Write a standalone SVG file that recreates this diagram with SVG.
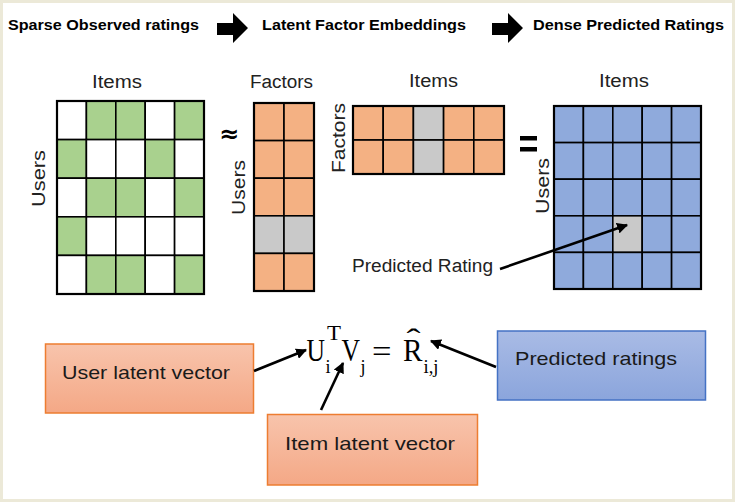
<svg xmlns="http://www.w3.org/2000/svg" width="735" height="502" viewBox="0 0 735 502">
<defs>
<style>
.hd{font-family:"Liberation Sans",Arial,sans-serif;font-weight:bold;font-size:15px;fill:#000}
.lb{font-family:"Liberation Sans",Arial,sans-serif;font-size:18px;fill:#222}
.bx{font-family:"Liberation Sans",Arial,sans-serif;font-size:19px;fill:#1a1a1a}
.m{font-family:"Liberation Serif","Times New Roman",serif;fill:#000}
.cw{fill:#fff;stroke:#000;stroke-width:1.6}
.cg{fill:#a9d18e;stroke:#000;stroke-width:1.6}
.co{fill:#f4b183;stroke:#000;stroke-width:1.6}
.cy{fill:#c9c9c9;stroke:#000;stroke-width:1.6}
.cb{fill:#8faadc;stroke:#000;stroke-width:1.6}
.conn{stroke:#000;stroke-width:2.6;fill:none;marker-end:url(#ah)}
</style>
<marker id="ah" viewBox="0 0 10 10" refX="9" refY="5" markerWidth="4.2" markerHeight="4.2" orient="auto" markerUnits="strokeWidth">
<path d="M0,0 L10,5 L0,10 z" fill="#000"/>
</marker>
<linearGradient id="gO" x1="0" y1="0" x2="0" y2="1">
<stop offset="0" stop-color="#f8c4ac"/>
<stop offset="1" stop-color="#f4a886"/>
</linearGradient>
<linearGradient id="gB" x1="0" y1="0" x2="0" y2="1">
<stop offset="0" stop-color="#a9bbe5"/>
<stop offset="1" stop-color="#8ba5dc"/>
</linearGradient>
</defs>

<rect x="0" y="0" width="735" height="502" fill="#ece9d8"/>
<rect x="3" y="3" width="729" height="496" fill="#ffffff"/>

<g id="header">
<text class="hd" x="8" y="30" textLength="191" lengthAdjust="spacingAndGlyphs">Sparse  Observed ratings</text>
<polygon points="217,23 233,23 233,13 248,28 233,43 233,35 217,35" fill="#000"/>
<text class="hd" x="262" y="30" textLength="204" lengthAdjust="spacingAndGlyphs">Latent Factor Embeddings</text>
<polygon points="492,23 508,23 508,13 523,28 508,43 508,35 492,35" fill="#000"/>
<text class="hd" x="533" y="30" textLength="191" lengthAdjust="spacingAndGlyphs">Dense Predicted Ratings</text>
</g>

<g id="observed-matrix">
<text class="lb" x="92" y="88" textLength="50" lengthAdjust="spacingAndGlyphs">Items</text>
<text class="lb" transform="translate(45,207) rotate(-90)" x="0" y="0" textLength="57" lengthAdjust="spacingAndGlyphs">Users</text>
<rect class="cw" x="57" y="101" width="29.4" height="38.6"/>
<rect class="cg" x="86.4" y="101" width="29.4" height="38.6"/>
<rect class="cg" x="115.8" y="101" width="29.4" height="38.6"/>
<rect class="cw" x="145.2" y="101" width="29.4" height="38.6"/>
<rect class="cg" x="174.6" y="101" width="29.4" height="38.6"/>
<rect class="cg" x="57" y="139.6" width="29.4" height="38.6"/>
<rect class="cw" x="86.4" y="139.6" width="29.4" height="38.6"/>
<rect class="cw" x="115.8" y="139.6" width="29.4" height="38.6"/>
<rect class="cg" x="145.2" y="139.6" width="29.4" height="38.6"/>
<rect class="cw" x="174.6" y="139.6" width="29.4" height="38.6"/>
<rect class="cw" x="57" y="178.2" width="29.4" height="38.6"/>
<rect class="cg" x="86.4" y="178.2" width="29.4" height="38.6"/>
<rect class="cg" x="115.8" y="178.2" width="29.4" height="38.6"/>
<rect class="cw" x="145.2" y="178.2" width="29.4" height="38.6"/>
<rect class="cg" x="174.6" y="178.2" width="29.4" height="38.6"/>
<rect class="cg" x="57" y="216.8" width="29.4" height="38.6"/>
<rect class="cw" x="86.4" y="216.8" width="29.4" height="38.6"/>
<rect class="cw" x="115.8" y="216.8" width="29.4" height="38.6"/>
<rect class="cw" x="145.2" y="216.8" width="29.4" height="38.6"/>
<rect class="cw" x="174.6" y="216.8" width="29.4" height="38.6"/>
<rect class="cw" x="57" y="255.4" width="29.4" height="38.6"/>
<rect class="cg" x="86.4" y="255.4" width="29.4" height="38.6"/>
<rect class="cg" x="115.8" y="255.4" width="29.4" height="38.6"/>
<rect class="cw" x="145.2" y="255.4" width="29.4" height="38.6"/>
<rect class="cg" x="174.6" y="255.4" width="29.4" height="38.6"/>
<rect x="57" y="101" width="147" height="193" fill="none" stroke="#000" stroke-width="2.2"/>
</g>

<g id="approx">
<text x="229" y="142" text-anchor="middle" font-family="'DejaVu Sans',sans-serif" font-weight="bold" font-size="24">≈</text>
</g>

<g id="user-factors">
<text class="lb" x="250" y="88" textLength="63" lengthAdjust="spacingAndGlyphs">Factors</text>
<text class="lb" transform="translate(245,215) rotate(-90)" x="0" y="0" textLength="55" lengthAdjust="spacingAndGlyphs">Users</text>
<rect class="co" x="254" y="103" width="30" height="37.6"/>
<rect class="co" x="284" y="103" width="30" height="37.6"/>
<rect class="co" x="254" y="140.6" width="30" height="37.6"/>
<rect class="co" x="284" y="140.6" width="30" height="37.6"/>
<rect class="co" x="254" y="178.2" width="30" height="37.6"/>
<rect class="co" x="284" y="178.2" width="30" height="37.6"/>
<rect class="cy" x="254" y="215.8" width="30" height="37.6"/>
<rect class="cy" x="284" y="215.8" width="30" height="37.6"/>
<rect class="co" x="254" y="253.4" width="30" height="37.6"/>
<rect class="co" x="284" y="253.4" width="30" height="37.6"/>
<rect x="254" y="103" width="60" height="188" fill="none" stroke="#000" stroke-width="2.2"/>
</g>

<g id="factor-items">
<text class="lb" x="409" y="87" textLength="49" lengthAdjust="spacingAndGlyphs">Items</text>
<text class="lb" transform="translate(345,173) rotate(-90)" x="0" y="0" textLength="70" lengthAdjust="spacingAndGlyphs">Factors</text>
<rect class="co" x="353" y="106" width="30.2" height="34"/>
<rect class="co" x="383.2" y="106" width="30.2" height="34"/>
<rect class="cy" x="413.4" y="106" width="30.2" height="34"/>
<rect class="co" x="443.6" y="106" width="30.2" height="34"/>
<rect class="co" x="473.8" y="106" width="30.2" height="34"/>
<rect class="co" x="353" y="140" width="30.2" height="34"/>
<rect class="co" x="383.2" y="140" width="30.2" height="34"/>
<rect class="cy" x="413.4" y="140" width="30.2" height="34"/>
<rect class="co" x="443.6" y="140" width="30.2" height="34"/>
<rect class="co" x="473.8" y="140" width="30.2" height="34"/>
<rect x="353" y="106" width="151" height="68" fill="none" stroke="#000" stroke-width="2.2"/>
</g>

<g id="equals">
<rect x="520" y="136" width="17" height="4.5" fill="#000"/>
<rect x="520" y="147" width="17" height="4.5" fill="#000"/>
</g>

<g id="predicted-matrix">
<text class="lb" x="599" y="87" textLength="50" lengthAdjust="spacingAndGlyphs">Items</text>
<text class="lb" transform="translate(549,214) rotate(-90)" x="0" y="0" textLength="56" lengthAdjust="spacingAndGlyphs">Users</text>
<rect class="cb" x="554" y="106" width="29.4" height="36.6"/>
<rect class="cb" x="583.4" y="106" width="29.4" height="36.6"/>
<rect class="cb" x="612.8" y="106" width="29.4" height="36.6"/>
<rect class="cb" x="642.2" y="106" width="29.4" height="36.6"/>
<rect class="cb" x="671.6" y="106" width="29.4" height="36.6"/>
<rect class="cb" x="554" y="142.6" width="29.4" height="36.6"/>
<rect class="cb" x="583.4" y="142.6" width="29.4" height="36.6"/>
<rect class="cb" x="612.8" y="142.6" width="29.4" height="36.6"/>
<rect class="cb" x="642.2" y="142.6" width="29.4" height="36.6"/>
<rect class="cb" x="671.6" y="142.6" width="29.4" height="36.6"/>
<rect class="cb" x="554" y="179.2" width="29.4" height="36.6"/>
<rect class="cb" x="583.4" y="179.2" width="29.4" height="36.6"/>
<rect class="cb" x="612.8" y="179.2" width="29.4" height="36.6"/>
<rect class="cb" x="642.2" y="179.2" width="29.4" height="36.6"/>
<rect class="cb" x="671.6" y="179.2" width="29.4" height="36.6"/>
<rect class="cb" x="554" y="215.8" width="29.4" height="36.6"/>
<rect class="cb" x="583.4" y="215.8" width="29.4" height="36.6"/>
<rect class="cy" x="612.8" y="215.8" width="29.4" height="36.6"/>
<rect class="cb" x="642.2" y="215.8" width="29.4" height="36.6"/>
<rect class="cb" x="671.6" y="215.8" width="29.4" height="36.6"/>
<rect class="cb" x="554" y="252.4" width="29.4" height="36.6"/>
<rect class="cb" x="583.4" y="252.4" width="29.4" height="36.6"/>
<rect class="cb" x="612.8" y="252.4" width="29.4" height="36.6"/>
<rect class="cb" x="642.2" y="252.4" width="29.4" height="36.6"/>
<rect class="cb" x="671.6" y="252.4" width="29.4" height="36.6"/>
<rect x="554" y="106" width="147" height="183" fill="none" stroke="#000" stroke-width="2.2"/>
</g>

<g id="predicted-rating-label">
<text class="lb" x="352" y="272" textLength="141" lengthAdjust="spacingAndGlyphs">Predicted Rating</text>
</g>

<g id="formula">
<text class="m" x="306.5" y="361" font-size="31" textLength="18.5" lengthAdjust="spacingAndGlyphs">U</text>
<text class="m" x="325.5" y="373" font-size="18">i</text>
<text class="m" x="327" y="340" font-size="20" textLength="14" lengthAdjust="spacingAndGlyphs">T</text>
<text class="m" x="341.5" y="361" font-size="31" textLength="18.5" lengthAdjust="spacingAndGlyphs">V</text>
<text class="m" x="360.5" y="373" font-size="18">j</text>
<text class="m" x="372" y="362" font-size="31" textLength="19.5" lengthAdjust="spacingAndGlyphs">=</text>
<text class="m" x="403" y="361" font-size="31" textLength="19.5" lengthAdjust="spacingAndGlyphs">R</text>
<text class="m" x="406.5" y="349" font-size="30" textLength="14" lengthAdjust="spacingAndGlyphs">ˆ</text>
<text class="m" x="423.5" y="373" font-size="18" textLength="15" lengthAdjust="spacingAndGlyphs">i,j</text>
</g>

<g id="user-latent-vector">
<rect x="45.5" y="344" width="208" height="69" fill="url(#gO)" stroke="#ed7d31" stroke-width="1.5"/>
<text class="bx" x="62" y="379" textLength="168" lengthAdjust="spacingAndGlyphs">User latent vector</text>
</g>

<g id="item-latent-vector">
<rect x="267.5" y="414.5" width="210" height="70.5" fill="url(#gO)" stroke="#ed7d31" stroke-width="1.5"/>
<text class="bx" x="285" y="450" textLength="170" lengthAdjust="spacingAndGlyphs">Item latent vector</text>
</g>

<g id="predicted-ratings">
<rect x="497.5" y="331" width="208" height="69" fill="url(#gB)" stroke="#4472c4" stroke-width="1.5"/>
<text class="bx" x="515" y="365" textLength="162" lengthAdjust="spacingAndGlyphs">Predicted ratings</text>
</g>

<g id="connectors">
<line class="conn" x1="500" y1="269" x2="627" y2="225"/>
<line class="conn" x1="254" y1="371" x2="306" y2="350"/>
<line class="conn" x1="321" y1="410" x2="343" y2="363"/>
<line class="conn" x1="496" y1="367" x2="431" y2="341"/>
</g>
</svg>
